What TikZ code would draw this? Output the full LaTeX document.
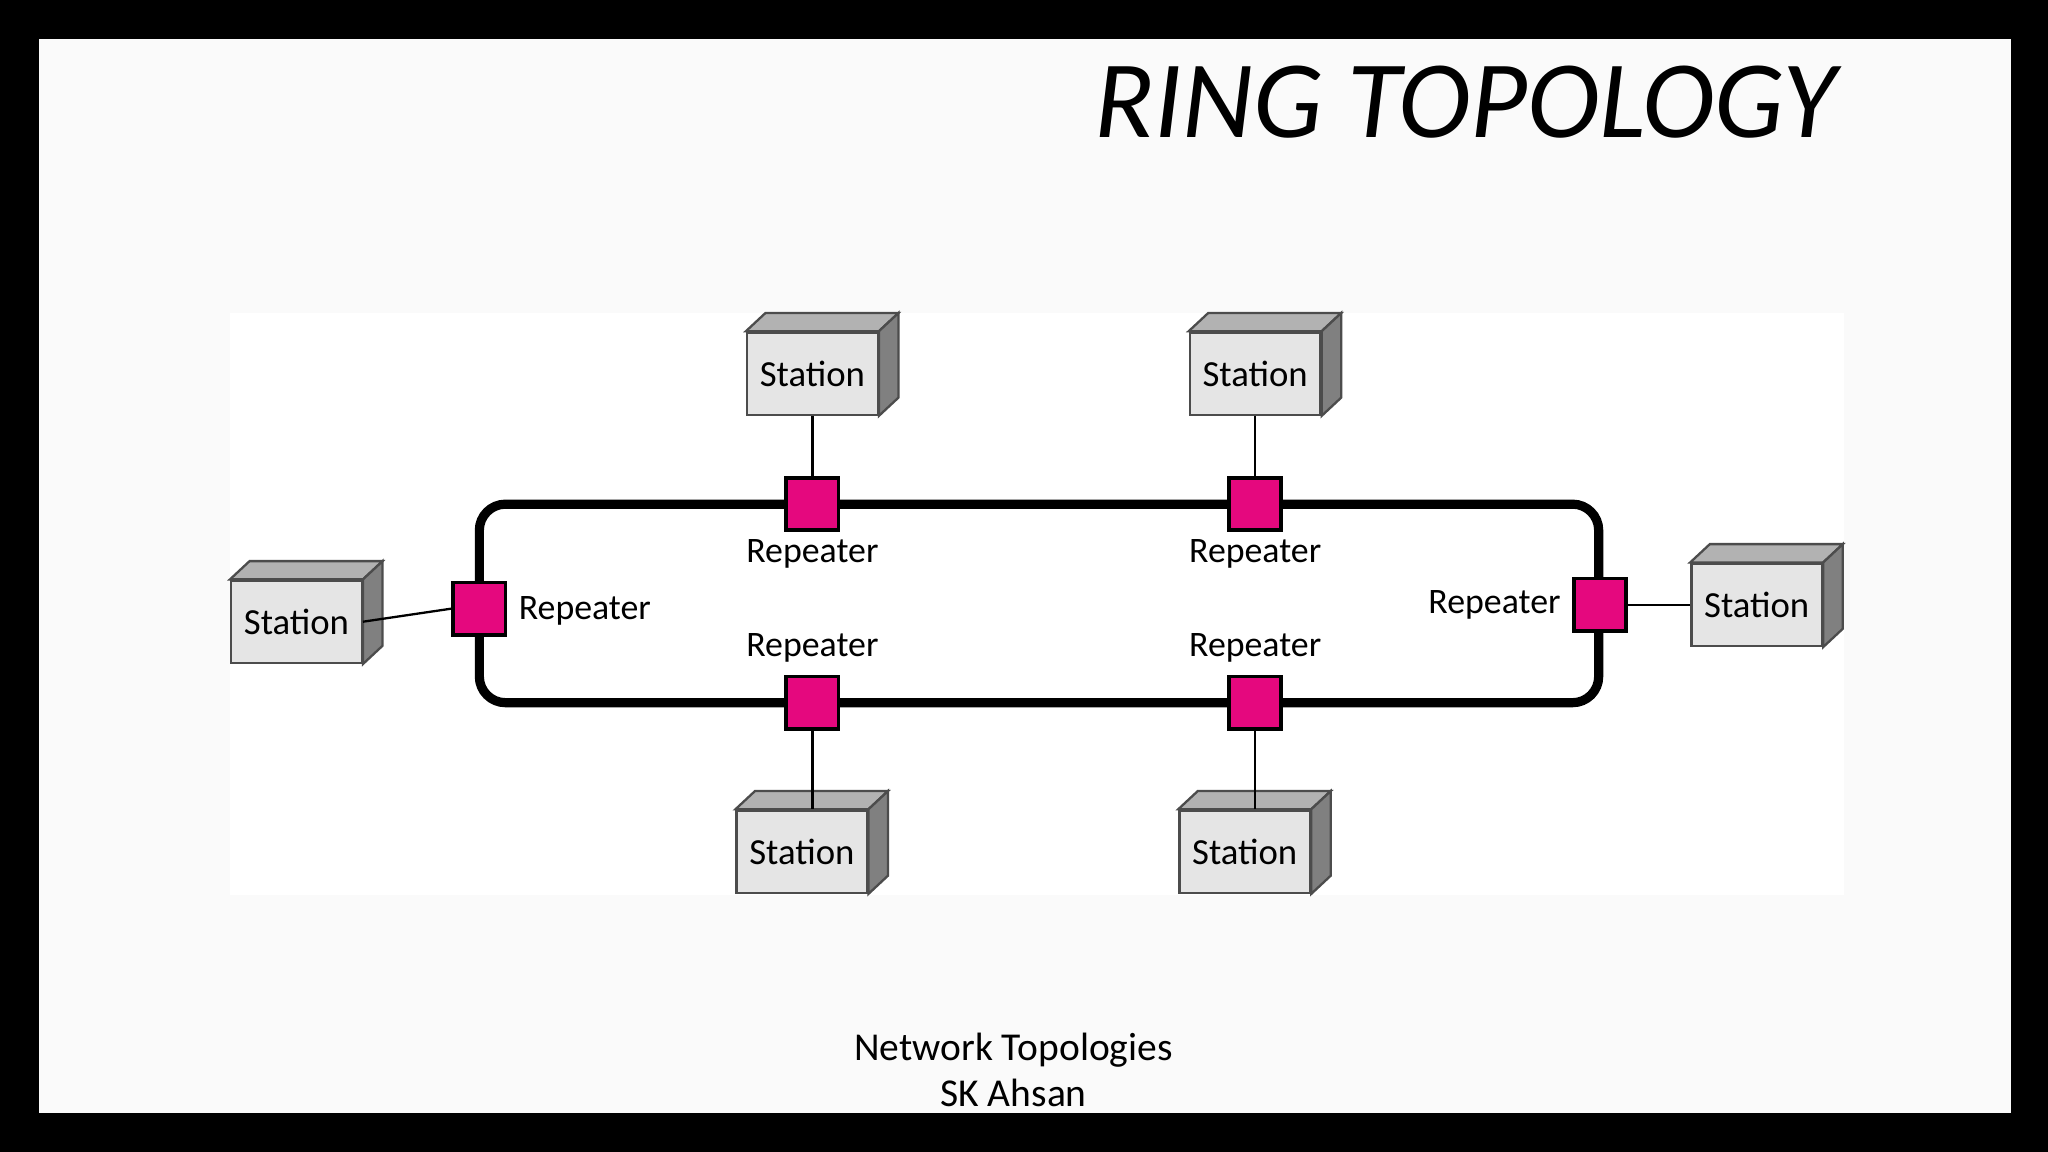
\documentclass[tikz,border=0pt]{standalone}
\usepackage{fontspec}
\setmainfont{Carlito}
\begin{document}
\begin{tikzpicture}[x=0.01cm,y=-0.01cm,
  rep/.style={draw=black,line width=0.8pt,fill=rptc,minimum size=0.4cm,inner sep=0pt},
  st/.style={draw=black!70,line width=0.5pt,fill=black!10,minimum width=1cm,minimum height=0.63cm,inner sep=0pt,font=\fontsize{8pt}{9pt}\selectfont},
  lab/.style={font=\fontsize{7.8pt}{9pt}\selectfont,inner sep=1pt},
  conn/.style={line width=0.5pt}]
\definecolor{rptc}{HTML}{E5087E}
\fill[black] (0,0) rectangle (1568,882);
\fill[black!2] (30,30) rectangle (1540,852);
\fill[white] (176,240) rectangle (1412,685);
\useasboundingbox (0,0) rectangle (1568,882);
\node[font=\fontsize{24pt}{28pt}\selectfont\itshape] (title) at (1122,78) {RING TOPOLOGY};
\draw[line width=2pt,rounded corners=0.2cm] (367,386) rectangle (1224,538);
\newcommand{\station}[3]{%
  \node[st] (#1) at (#2,#3) {Station};
  \fill[black!30,draw=black!70,line width=0.5pt] (#1.north west) -- ++(15,-14) -- ++(100,0) -- ([shift={(15,-14)}]#1.north east) -- (#1.north east) -- cycle;
  \fill[black!50,draw=black!70,line width=0.5pt] (#1.north east) -- ++(15,-14) -- ([shift={(15,-14)}]#1.south east) -- (#1.south east) -- cycle;}
\station{s1}{622}{286}
\station{s2}{961}{286}
\station{s3}{227}{476}
\station{s4}{1345}{463}
\station{s5}{614}{652}
\station{s6}{953}{652}
\node[rep] (r1) at (622,386) {};
\node[rep] (r2) at (961,386) {};
\node[rep] (r3) at (367,466) {};
\node[rep] (r4) at (1225,463) {};
\node[rep] (r5) at (622,538) {};
\node[rep] (r6) at (961,538) {};
\draw[conn] (s1.south) -- (r1.north);
\draw[conn] (s2.south) -- (r2.north);
\draw[conn] (s3.east) -- (r3.west);
\draw[conn] (s4.west) -- (r4.east);
\draw[conn] (r5.south) -- (r5.south |- s5.north);
\draw[conn] (r6.south) -- (r6.south |- s6.north);
\node[lab] (l1) at (622,424) {Repeater};
\node[lab] (l2) at (961,424) {Repeater};
\node[lab,anchor=west] (l3) at (393,468) {Repeater};
\node[lab,anchor=east] (l4) at (1199,463) {Repeater};
\node[lab] (l5) at (622,496) {Repeater};
\node[lab] (l6) at (961,496) {Repeater};
\node[font=\fontsize{8.6pt}{10pt}\selectfont,align=center] (foot) at (776,819) {Network Topologies\\SK Ahsan};
\end{tikzpicture}
\end{document}
